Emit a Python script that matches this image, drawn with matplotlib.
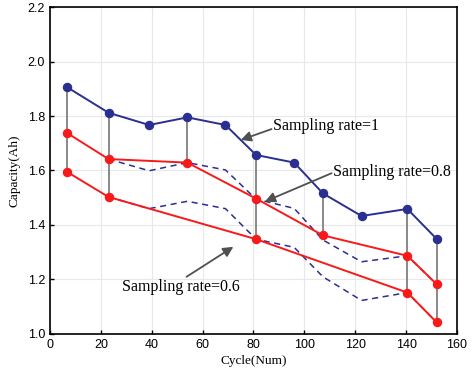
import matplotlib.pyplot as plt

plt.rcParams['font.family'] = 'Liberation Sans'

# cycles / capacities
cyc_full = [6.5, 23, 39, 54, 69, 81, 96, 107.3, 122.5, 140.5, 152]
cap_full = [1.907, 1.812, 1.767, 1.795, 1.767, 1.657, 1.629, 1.516, 1.433, 1.459, 1.349]

cyc_08 = [6.5, 23, 54, 81, 107.3, 140.5, 152]
cap_08 = [1.739, 1.642, 1.629, 1.497, 1.362, 1.287, 1.183]

cyc_06 = [6.5, 23, 81, 140.5, 152]
cap_06 = [1.596, 1.503, 1.348, 1.152, 1.043]

cyc_dash = [23, 39, 54, 69, 81, 96, 107.3, 122.5, 140.5, 152]
cap_dash_08 = [1.642, 1.599, 1.629, 1.602, 1.495, 1.461, 1.345, 1.265, 1.287, 1.183]
cap_dash_06 = [1.503, 1.460, 1.487, 1.460, 1.348, 1.318, 1.210, 1.123, 1.152, 1.043]

navy = '#2b2f8f'
red = '#f81a1a'

fig = plt.figure(figsize=(4.74, 3.81), dpi=100)
ax = fig.add_axes([0.1055, 0.1234, 0.8585, 0.8582])

ax.grid(True, color='#e8e8e8', lw=0.8, zorder=0)

# gray connectors between sampled points
for x in cyc_08:
    top = cap_full[cyc_full.index(x)]
    bot = cap_06[cyc_06.index(x)] if x in cyc_06 else cap_08[cyc_08.index(x)]
    ax.plot([x, x], [bot, top], color='#808080', lw=1.3, zorder=2)

ax.plot(cyc_dash, cap_dash_08, color=navy, lw=1.1, ls=(0, (4, 3)), zorder=3)
ax.plot(cyc_dash, cap_dash_06, color=navy, lw=1.1, ls=(0, (4, 3)), zorder=3)

ax.plot(cyc_full, cap_full, color=navy, lw=1.4, marker='o', ms=5.8, zorder=4)
ax.plot(cyc_08, cap_08, color=red, lw=1.4, marker='o', ms=5.8, zorder=4)
ax.plot(cyc_06, cap_06, color=red, lw=1.4, marker='o', ms=5.8, zorder=4)

ax.set_xlim(0, 160)
ax.set_ylim(1.0, 2.2)
ax.set_xticks(range(0, 161, 20))
ax.set_yticks([1.0, 1.2, 1.4, 1.6, 1.8, 2.0, 2.2])
ax.set_yticklabels(['1.0', '1.2', '1.4', '1.6', '1.8', '2.0', '2.2'])
ax.tick_params(direction='in', length=3, width=1, labelsize=9)
for s in ax.spines.values():
    s.set_linewidth(1.2)

ax.set_xlabel('Cycle(Num)', family='Liberation Serif', fontsize=9.5, labelpad=3)
ax.set_ylabel('Capacity(Ah)', family='Liberation Serif', fontsize=9.5, labelpad=5)

arrow = dict(arrowstyle='-|>,head_length=0.6,head_width=0.3', color='#505050', lw=1.3, shrinkA=0, shrinkB=0)
tfont = dict(family='Liberation Serif', fontsize=11.5, va='center', ha='left')

ax.annotate('', xy=(75.0, 1.712), xytext=(87.1, 1.752), arrowprops=arrow, zorder=5)
ax.text(87.5, 1.764, 'Sampling rate=1', **tfont)

ax.annotate('', xy=(84.5, 1.486), xytext=(110.7, 1.590), arrowprops=arrow, zorder=5)
ax.text(111.4, 1.596, 'Sampling rate=0.8', **tfont)

ax.annotate('', xy=(72.1, 1.320), xytext=(53.7, 1.210), arrowprops=arrow, zorder=5)
ax.text(28.2, 1.174, 'Sampling rate=0.6', **tfont)

fig.savefig('out.png', dpi=100)
